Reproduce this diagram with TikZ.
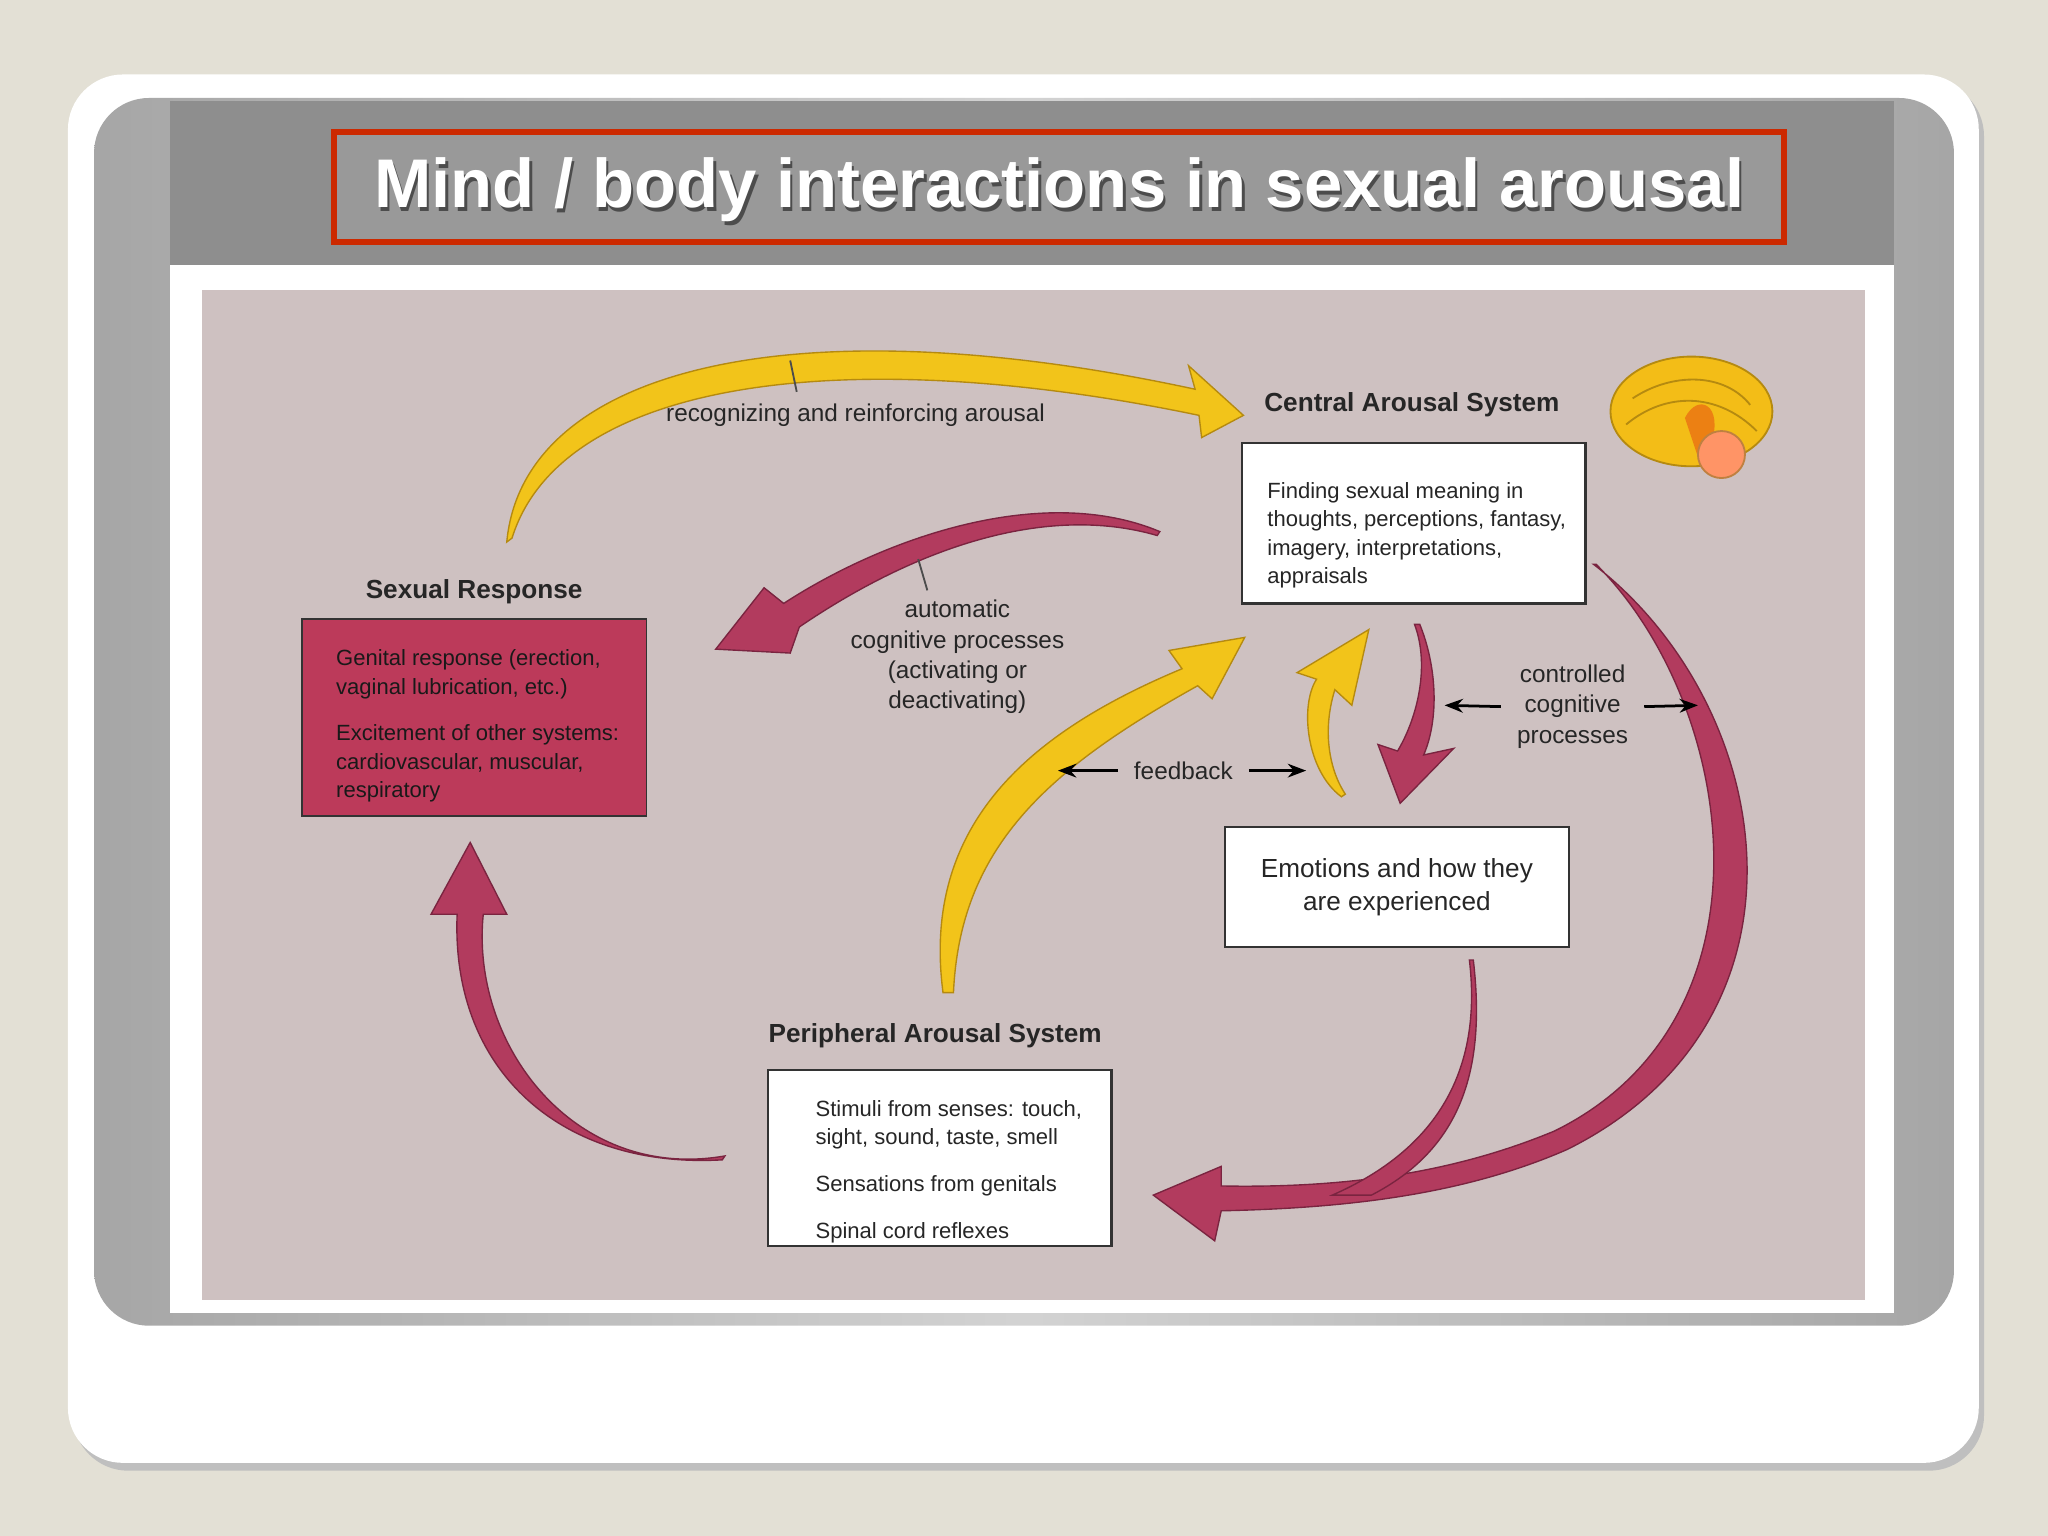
\documentclass[tikz,border=0pt]{standalone}
\usepackage{fontspec}
\setmainfont{Liberation Sans}
\usetikzlibrary{arrows.meta,shadows}
\definecolor{bg}{HTML}{E3E0D5}
\definecolor{panel}{HTML}{CEC1C1}
\definecolor{band}{HTML}{8E8E8E}
\definecolor{yel}{HTML}{F2C41A}
\definecolor{yelD}{HTML}{B58A10}
\definecolor{mag}{HTML}{B23B5E}
\definecolor{magD}{HTML}{7A2440}
\definecolor{srfill}{HTML}{BC3A5A}
\tikzset{
 body/.style={font=\fontsize{4.8}{6.2}\selectfont, align=left, text=black!85},
 ttl/.style={font=\fontsize{5.7}{7}\selectfont\bfseries, text=black!85},
 wbox/.style={draw=black!80, fill=white, line width=0.5pt},
 yarrow/.style={fill=yel, draw=yelD, line width=0.3pt},
 marrow/.style={fill=mag, draw=magD, line width=0.3pt},
 lab/.style={font=\fontsize{5.3}{6.6}\selectfont, align=center, text=black!85},
 sm/.style={-{Stealth[length=4pt]}, line width=0.6pt}
}
\begin{document}
\begin{tikzpicture}[x=0.1mm,y=-0.1mm]
\fill[bg] (0,0) rectangle (1568,1176);
\useasboundingbox (0,0) rectangle (1568,1176);
\fill[black!25, rounded corners=12] (56,62) rectangle (1519,1126);
\fill[white, rounded corners=12] (52,57) rectangle (1515,1120);
\shade[left color=gray!70, right color=gray!70, middle color=gray!35, rounded corners=12] (72,75) rectangle (1496,1015);
\fill[band] (130,77) rectangle (1450,203);
\fill[white] (130,203) rectangle (1450,1005);
\fill[panel] (155,222) rectangle (1428,995);
% title
\draw[red!60!orange!80!black, line width=1.3pt, fill=band!90!white] (256,101) rectangle (1366,185);
\node[font=\fontsize{15}{17}\selectfont\bfseries, text=black!70] at (813,148) {Mind / body interactions in sexual arousal};
\node[font=\fontsize{15}{17}\selectfont\bfseries, text=white] (title) at (811,145) {Mind / body interactions in sexual arousal};
% brain
\fill[yel!90!orange, draw=yelD] (1295,315) ellipse (62 and 42);
\draw[yelD, line width=0.4pt] (1250,305) .. controls (1280,285) and (1320,285) .. (1340,310);
\draw[yelD, line width=0.4pt] (1245,325) .. controls (1275,300) and (1315,300) .. (1345,330);
\fill[orange!70!brown] (1290,320) .. controls (1300,300) and (1320,310) .. (1310,340) -- (1300,350) -- cycle;
\fill[orange!60!red!60, draw=brown] (1318,348) circle (18);
% nodes
\node[ttl] (cas) at (1081,310) {Central Arousal System};
\node[wbox, minimum width=263*0.1mm, minimum height=123*0.1mm] (casb) at (1082.5,400.5) {};
\node[body, anchor=north west] at (958,357) {Finding sexual meaning in\\thoughts, perceptions, fantasy,\\imagery, interpretations,\\appraisals};
\node[ttl] (sr) at (363,453) {Sexual Response};
\node[draw=black!80, fill=srfill, minimum width=264*0.1mm, minimum height=151*0.1mm] (srb) at (363,549.5) {};
\node[body, anchor=north west, text=black!90] at (245,485) {Genital response (erection,\\vaginal lubrication, etc.)\\[4pt]Excitement of other systems:\\cardiovascular, muscular,\\respiratory};
\node[wbox, minimum width=263*0.1mm, minimum height=92*0.1mm, body, align=center, font=\fontsize{5.7}{7.2}\selectfont] (emo) at (1069.5,679) {Emotions and how they\\are experienced};
\node[ttl] (pas) at (716,793) {Peripheral Arousal System};
\node[wbox, minimum width=263*0.1mm, minimum height=135*0.1mm] (pasb) at (719.5,886.5) {};
\node[body, anchor=north west] at (612,830) {Stimuli from senses: touch,\\sight, sound, taste, smell\\[4pt]Sensations from genitals\\[4pt]Spinal cord reflexes};
% arrows
\path[yarrow] (388,415) .. controls (400,285) and (600,230) .. (915,298) -- (910,280) -- (952,318) -- (920,335) -- (918,318) .. controls (650,262) and (430,290) .. (392,412) -- cycle;
\path[marrow] (888,407) .. controls (800,370) and (680,410) .. (600,462) -- (585,450) -- (548,497) -- (605,500) -- (612,480) .. controls (700,420) and (800,385) .. (886,410) -- cycle;
\path[yarrow] (722,760) .. controls (705,630) and (790,560) .. (905,512) -- (895,498) -- (953,488) -- (928,535) -- (917,525) .. controls (800,590) and (735,650) .. (730,760) -- cycle;
\path[yarrow] (1027,610) .. controls (1000,590) and (995,540) .. (1008,520) -- (993,515) -- (1048,482) -- (1035,540) -- (1022,528) .. controls (1012,560) and (1018,590) .. (1030,608) -- cycle;
\path[marrow] (1083,478) .. controls (1095,510) and (1085,550) .. (1070,575) -- (1055,570) -- (1072,615) -- (1113,573) -- (1090,578) .. controls (1102,550) and (1100,510) .. (1087,478) -- cycle;
\path[marrow] (1220,432) .. controls (1360,540) and (1400,780) .. (1200,880) .. controls (1120,915) and (1030,925) .. (935,927) -- (930,950) -- (883,915) -- (935,893) -- (935,908) .. controls (1040,910) and (1120,895) .. (1190,866) .. controls (1365,780) and (1330,540) .. (1222,432) -- cycle;
\path[marrow] (1125,735) .. controls (1135,820) and (1100,880) .. (1020,915) -- (1050,915) .. controls (1118,880) and (1138,820) .. (1128,735) -- cycle;
\path[marrow] (555,885) .. controls (440,905) and (360,800) .. (370,700) -- (388,700) -- (360,645) -- (330,700) -- (350,700) .. controls (345,820) and (430,895) .. (553,888) -- cycle;
% labels
\node[lab] (rec) at (655,318) {recognizing and reinforcing arousal};
\draw[black!70, line width=0.4pt] (605,276) -- (610,300);
\node[lab] (auto) at (733,503) {automatic\\cognitive processes\\(activating or\\deactivating)};
\draw[black!70, line width=0.4pt] (703,428) -- (710,452);
\node[lab] (fb) at (906,590) {feedback};
\coordinate (fbl) at (810,590); \coordinate (fbr) at (1000,590);
\draw[sm] (fb.west) -- (fbl); \draw[sm] (fb.east) -- (fbr);
\node[lab] (ccp) at (1204,541) {controlled\\cognitive\\processes};
\coordinate (cl) at (1106,540); \coordinate (cr) at (1300,540);
\draw[sm] (ccp.west) -- (cl); \draw[sm] (ccp.east) -- (cr);
\end{tikzpicture}
\end{document}
